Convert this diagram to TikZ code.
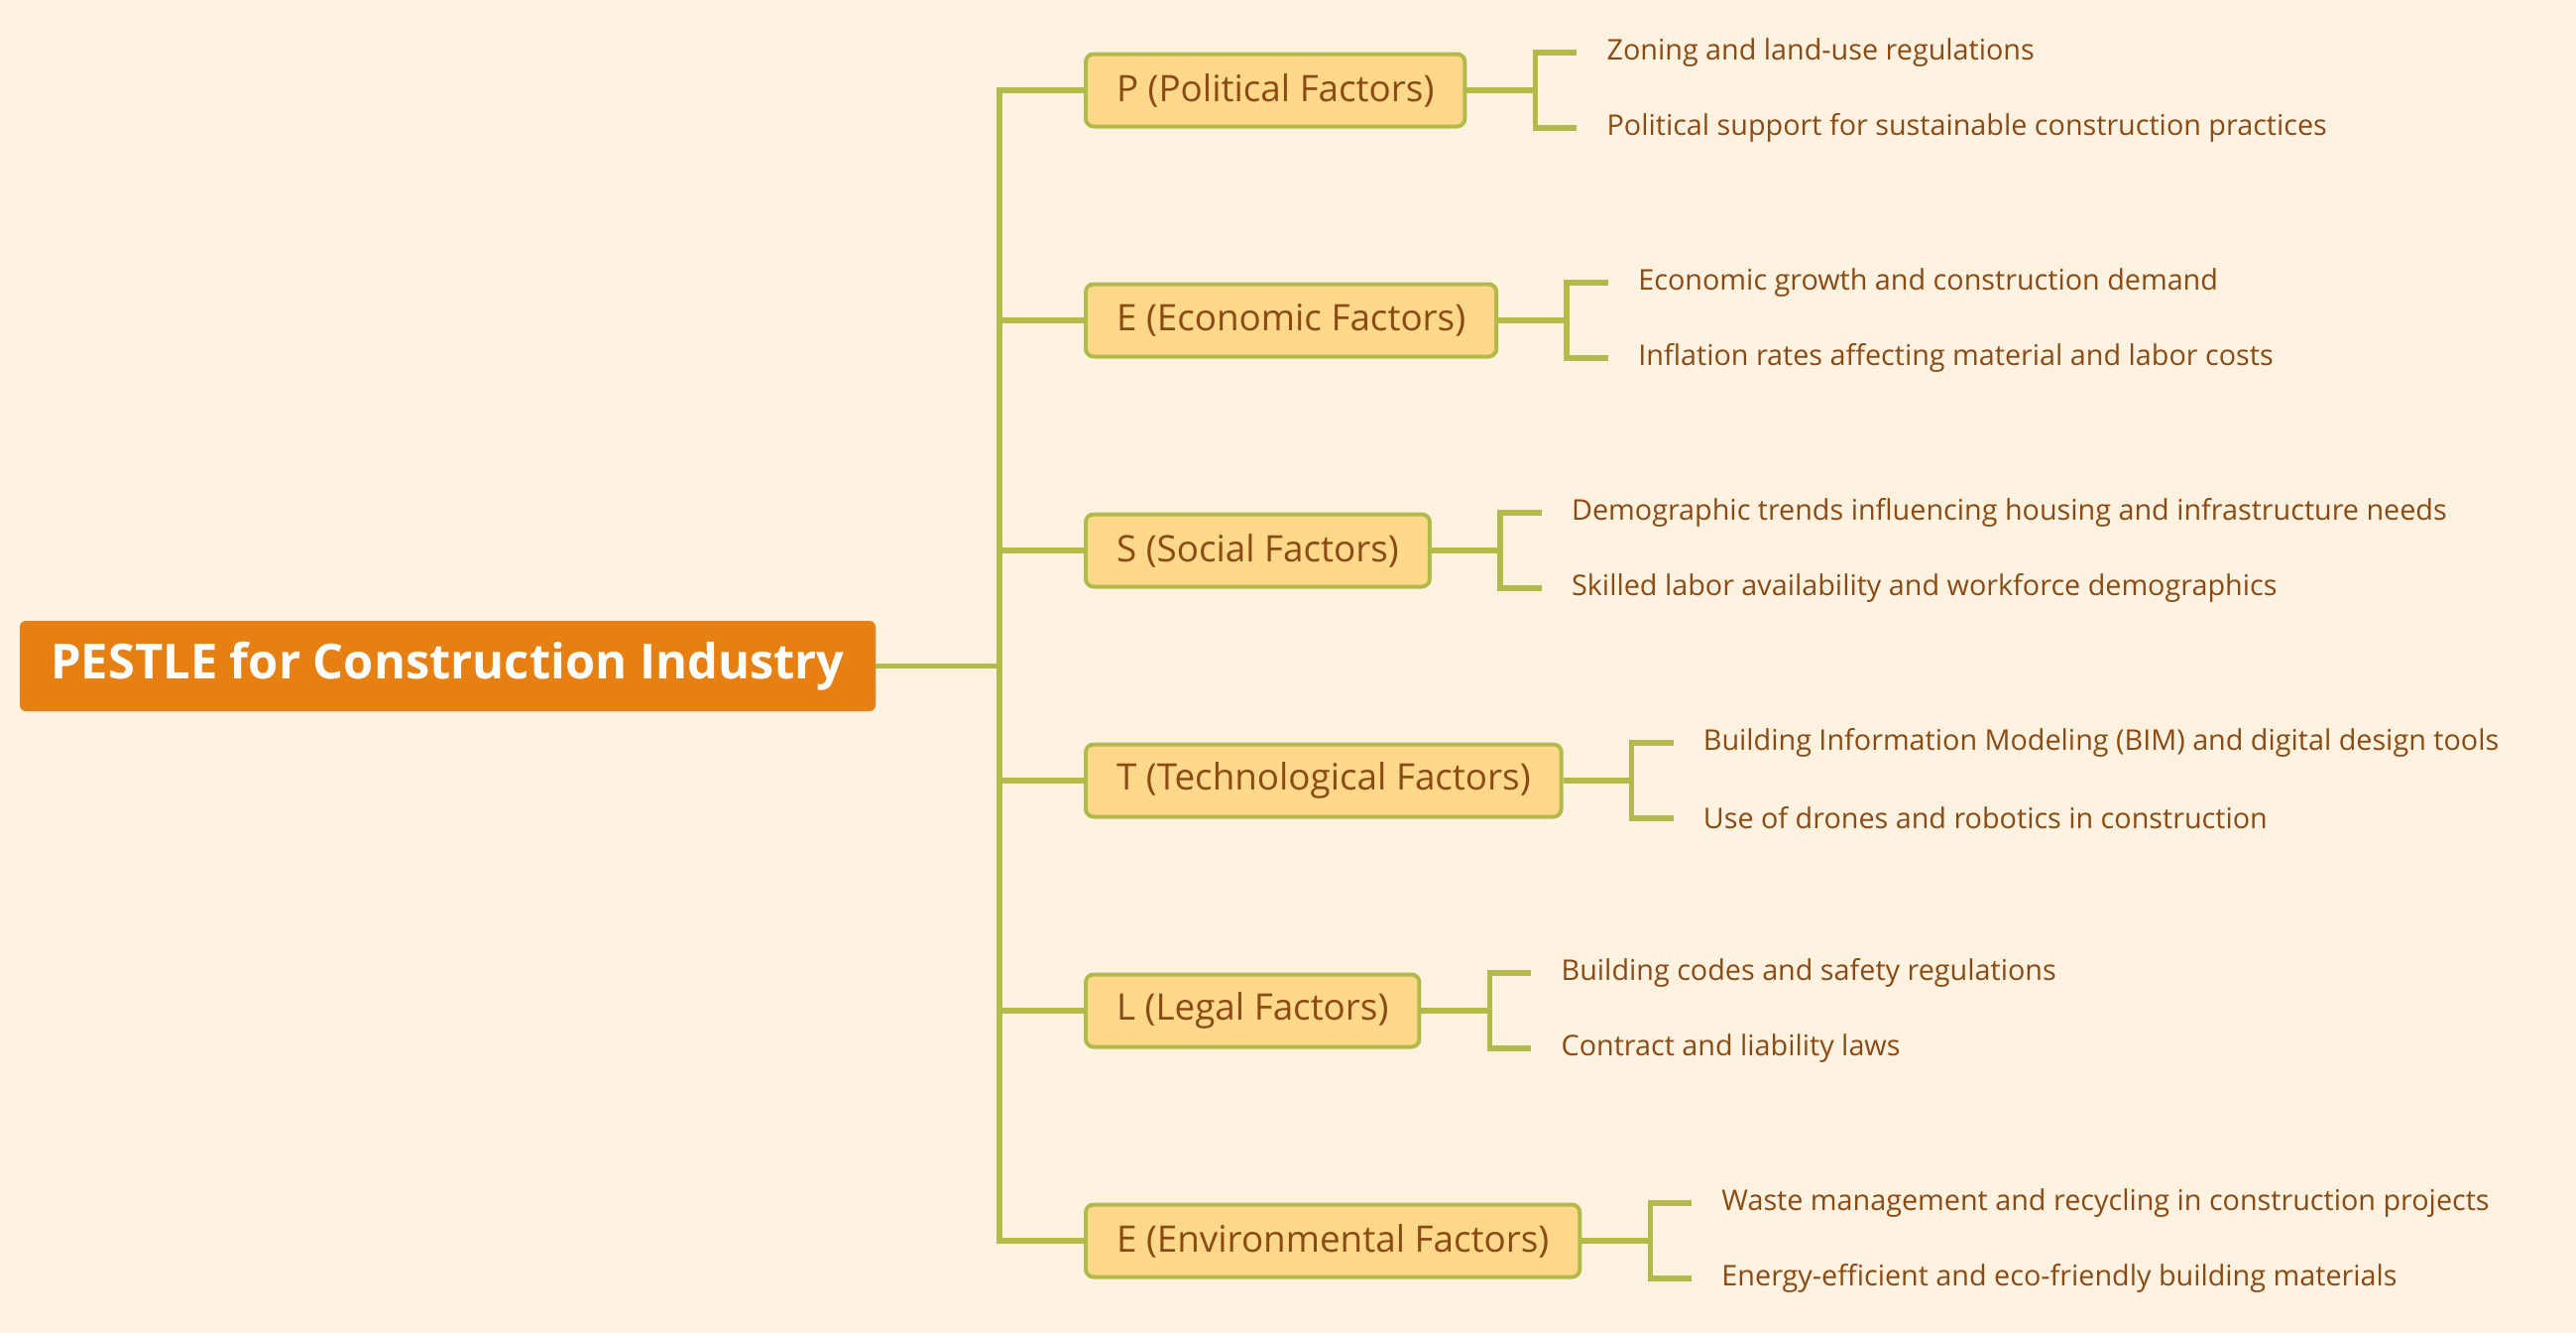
\documentclass[tikz,border=0pt]{standalone}
\usepackage{fontspec}
\setmainfont{Open Sans}
\usepackage{tikz}
\definecolor{bgcream}{RGB}{255,242,224}
\definecolor{rootorange}{RGB}{230,128,18}
\definecolor{boxyellow}{RGB}{255,216,138}
\definecolor{linegreen}{RGB}{178,187,74}
\definecolor{textbrown}{RGB}{139,74,19}
\tikzset{
  rootbox/.style={rectangle,rounded corners=6pt,fill=rootorange,text=white,
    font=\fontsize{48.8}{58}\selectfont\bfseries,minimum height=91pt,minimum width=863pt,inner sep=0pt},
  factorbox/.style={rectangle,rounded corners=8pt,draw=linegreen,line width=4pt,fill=boxyellow,
    text=textbrown,font=\fontsize{36.8}{44}\selectfont,minimum height=73pt,inner xsep=31pt,anchor=west},
  itemtext/.style={text=textbrown,font=\fontsize{28.75}{34}\selectfont,inner xsep=30pt,inner ysep=0pt,anchor=west},
  link/.style={draw=linegreen,line width=5.5pt},
}

\begin{document}
\begin{tikzpicture}[x=1pt,y=-1pt]
        \fill[bgcream] (0,0) rectangle (2598,1344);
        \useasboundingbox (0,0) rectangle (2598,1344);
        % centre
        \node[rootbox] (pestle) at (451.5,671.5) {PESTLE for Construction Industry};
        % factors
        \node[factorbox] (pol) at (1093,91) {P (Political Factors)};
        \node[factorbox] (eco) at (1093,323) {E (Economic Factors)};
        \node[factorbox] (soc) at (1093,555) {S (Social Factors)};
        \node[factorbox] (tec) at (1093,787) {T (Technological Factors)};
        \node[factorbox] (leg) at (1093,1019) {L (Legal Factors)};
        \node[factorbox] (env) at (1093,1251) {E (Environmental Factors)};
        % items
        \node[itemtext] (pol1) at ([shift={(111,-38)}]pol.east) {Zoning and land-use regulations};
        \node[itemtext] (pol2) at ([shift={(111,38)}]pol.east) {Political support for sustainable construction practices};
        \node[itemtext] (eco1) at ([shift={(111,-38)}]eco.east) {Economic growth and construction demand};
        \node[itemtext] (eco2) at ([shift={(111,38)}]eco.east) {Inflation rates affecting material and labor costs};
        \node[itemtext] (soc1) at ([shift={(111,-38)}]soc.east) {Demographic trends influencing housing and infrastructure needs};
        \node[itemtext] (soc2) at ([shift={(111,38)}]soc.east) {Skilled labor availability and workforce demographics};
        \node[itemtext] (tec1) at ([shift={(111,-38)}]tec.east) {Building Information Modeling (BIM) and digital design tools};
        \node[itemtext] (tec2) at ([shift={(111,38)}]tec.east) {Use of drones and robotics in construction};
        \node[itemtext] (leg1) at ([shift={(111,-38)}]leg.east) {Building codes and safety regulations};
        \node[itemtext] (leg2) at ([shift={(111,38)}]leg.east) {Contract and liability laws};
        \node[itemtext] (env1) at ([shift={(111,-38)}]env.east) {Waste management and recycling in construction projects};
        \node[itemtext] (env2) at ([shift={(111,38)}]env.east) {Energy-efficient and eco-friendly building materials};
        % trunk
        \draw[link] (pestle.east) -- ++(125,0) |- (pol.west);
        \draw[link] (pestle.east) -- ++(125,0) |- (eco.west);
        \draw[link] (pestle.east) -- ++(125,0) |- (soc.west);
        \draw[link] (pestle.east) -- ++(125,0) |- (tec.west);
        \draw[link] (pestle.east) -- ++(125,0) |- (leg.west);
        \draw[link] (pestle.east) -- ++(125,0) |- (env.west);
        % brackets
        \draw[link] (pol.east) -- ++(69,0) |- (pol1.west);
        \draw[link] (pol.east) -- ++(69,0) |- (pol2.west);
        \draw[link] (eco.east) -- ++(69,0) |- (eco1.west);
        \draw[link] (eco.east) -- ++(69,0) |- (eco2.west);
        \draw[link] (soc.east) -- ++(69,0) |- (soc1.west);
        \draw[link] (soc.east) -- ++(69,0) |- (soc2.west);
        \draw[link] (tec.east) -- ++(69,0) |- (tec1.west);
        \draw[link] (tec.east) -- ++(69,0) |- (tec2.west);
        \draw[link] (leg.east) -- ++(69,0) |- (leg1.west);
        \draw[link] (leg.east) -- ++(69,0) |- (leg2.west);
        \draw[link] (env.east) -- ++(69,0) |- (env1.west);
        \draw[link] (env.east) -- ++(69,0) |- (env2.west);
\end{tikzpicture}
\end{document}
